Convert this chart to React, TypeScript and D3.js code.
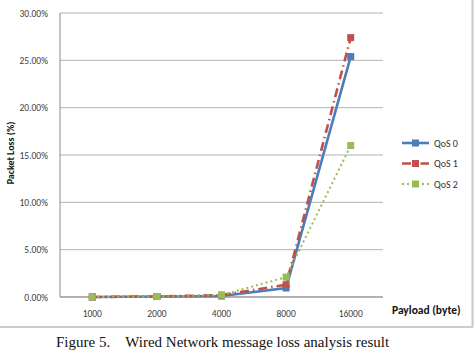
import * as React from 'react'
import * as d3 from 'd3'

const categories = ['1000', '2000', '4000', '8000', '16000']
const qos0 = [0.0, 0.05, 0.1, 0.95, 25.4]
const qos1 = [0.0, 0.05, 0.2, 1.3, 27.4]
const qos2 = [0.0, 0.05, 0.2, 2.1, 16.0]
const yTicks = [0, 5, 10, 15, 20, 25, 30]

const seriesList = [
  { name: 'QoS 0', values: qos0, color: '#4a7ebb', width: 2.6, dash: '' },
  { name: 'QoS 1', values: qos1, color: '#c0504d', width: 2.6, dash: '9,4,1.5,4' },
  { name: 'QoS 2', values: qos2, color: '#9bbb59', width: 2, dash: '2,3' },
]

const W = 474
const H = 351
const plotLeft = 60
const plotRight = 383
const plotTop = 13
const plotBottom = 297

export default function App() {
  const x = d3.scalePoint<string>().domain(categories).range([plotLeft, plotRight]).padding(0.5)
  const y = d3.scaleLinear().domain([0, 30]).range([plotBottom, plotTop])
  const line = d3.line<number>()
    .x((_, i) => x(categories[i])!)
    .y(d => y(d))

  const font = 'Calibri, Carlito, "Open Sans", "DejaVu Sans", sans-serif'

  return (
    <svg width={W} height={H} style={{ position: 'absolute', left: 0, top: 0, background: '#fff' }}>
      <rect x={0} y={0} width={W} height={H} fill="#fff" />
      {/* chart frame */}
      <line x1={0} x2={473} y1={327} y2={327} stroke="#bdbdbd" strokeWidth={1.5} />
      <line x1={472.5} x2={472.5} y1={0} y2={327} stroke="#c8c8c8" strokeWidth={2} />

      {/* grid */}
      {yTicks.map(t => (
        <g key={t}>
          <line x1={plotLeft} x2={plotRight} y1={y(t)} y2={y(t)} stroke="#b3b3b3" strokeWidth={1} />
          <text x={48} y={y(t) + 3.5} textAnchor="end" fontSize={9.5} fontFamily={font} fill="#404040">
            {t.toFixed(2)}%
          </text>
        </g>
      ))}
      <line x1={plotLeft} x2={plotLeft} y1={plotTop} y2={plotBottom} stroke="#8c8c8c" strokeWidth={1} />
      <line x1={plotLeft} x2={plotRight} y1={plotBottom} y2={plotBottom} stroke="#8c8c8c" strokeWidth={1} />

      {categories.map(c => (
        <text key={c} x={x(c)} y={317} textAnchor="middle" fontSize={9.5} fontFamily={font} fill="#404040">
          {c}
        </text>
      ))}

      <text
        transform={`translate(14, 153) rotate(-90)`}
        textAnchor="middle"
        fontSize={10}
        fontWeight="bold"
        fontFamily={font}
        fill="#111"
      >
        Packet Loss (%)
      </text>
      <text x={392} y={314} fontSize={11.5} fontWeight="bold" fontFamily={font} fill="#111">
        Payload (byte)
      </text>

      {/* series */}
      {seriesList.map(s => (
        <g key={s.name}>
          <path d={line(s.values) || ''} fill="none" stroke={s.color} strokeWidth={s.width} strokeDasharray={s.dash} />
          {s.values.map((v, i) => (
            <rect key={i} x={x(categories[i])! - 3.5} y={y(v) - 3.5} width={7} height={7} fill={s.color} />
          ))}
        </g>
      ))}

      {/* legend */}
      {seriesList.map((s, i) => {
        const ly = 143 + i * 20.5
        return (
          <g key={s.name}>
            <line x1={402} x2={429} y1={ly} y2={ly} stroke={s.color} strokeWidth={s.width} strokeDasharray={s.dash} />
            <rect x={412} y={ly - 3.5} width={7} height={7} fill={s.color} />
            <text x={434} y={ly + 3.5} fontSize={10} fontFamily={font} fill="#333">
              {s.name}
            </text>
          </g>
        )
      })}

      <text x={56} y={347} fontSize={15} fontFamily='"Liberation Serif", "Times New Roman", serif' fill="#111">
        Figure 5.{'\u00a0\u00a0\u00a0\u00a0'}Wired Network message loss analysis result
      </text>
    </svg>
  )
}
